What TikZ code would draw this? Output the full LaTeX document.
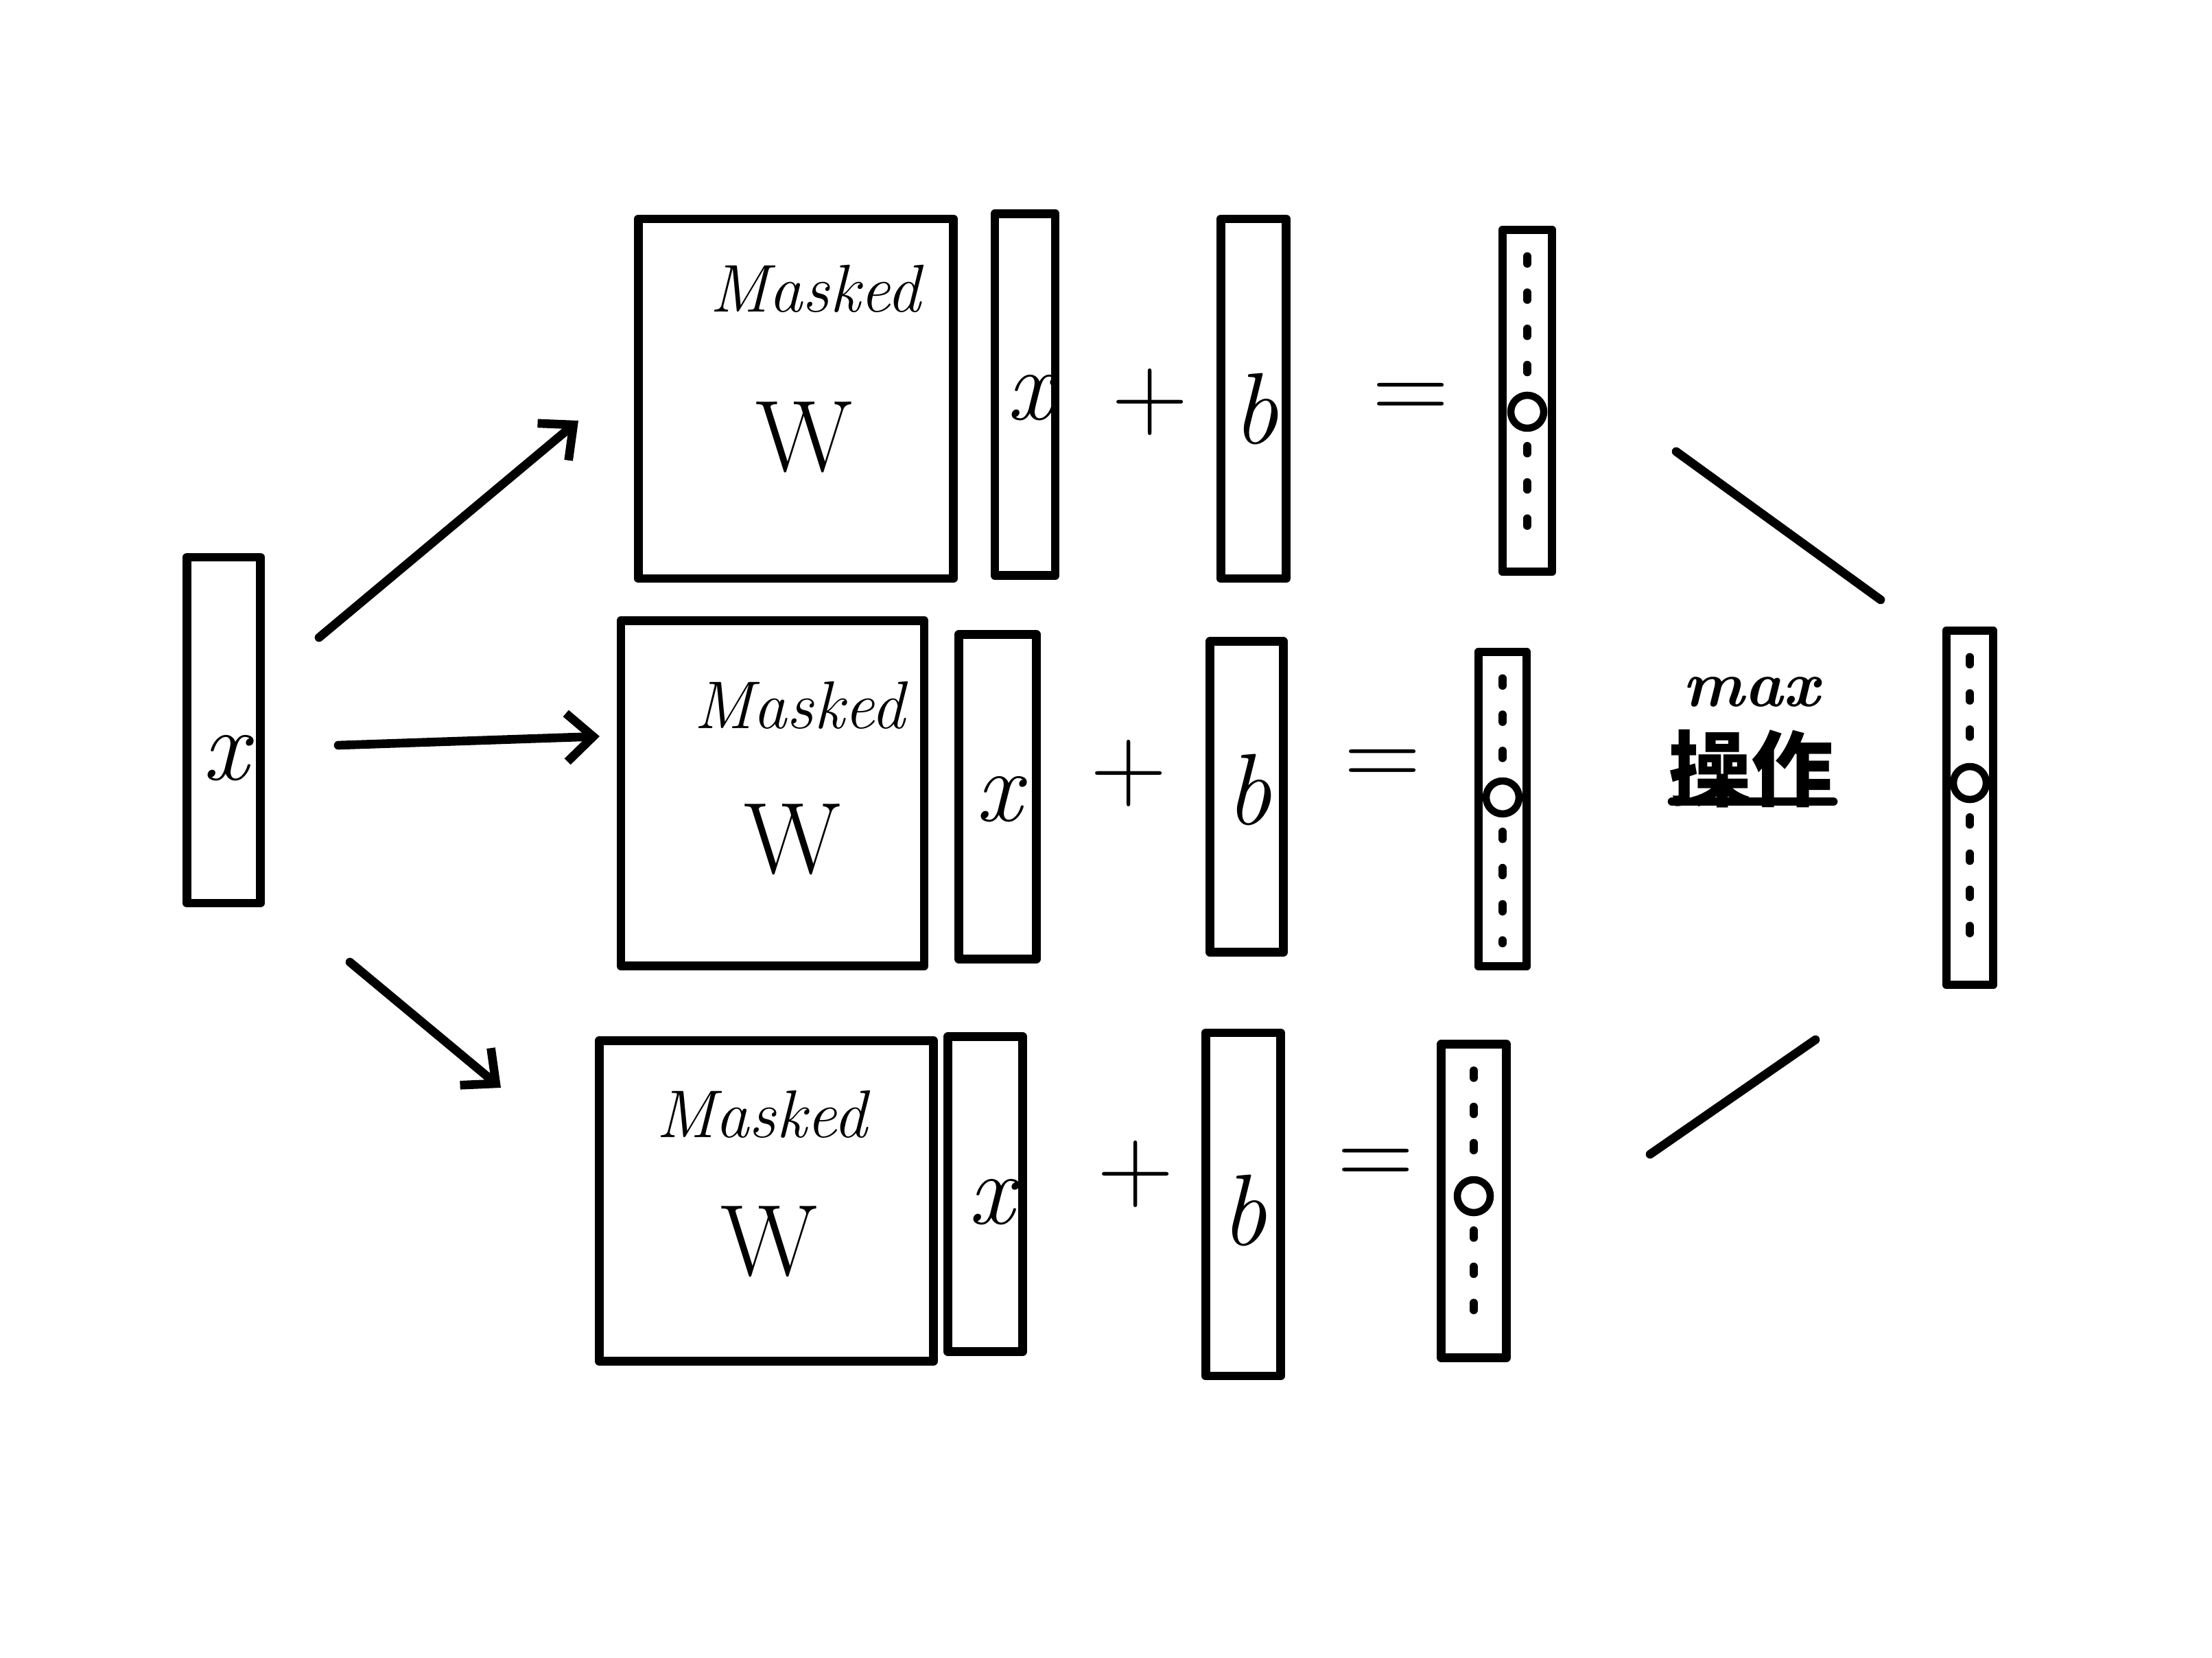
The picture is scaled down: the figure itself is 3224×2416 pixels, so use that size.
\documentclass[tikz,border=0pt]{standalone}
\usepackage{fontspec}
\newfontfamily\cjk{Noto Sans CJK SC}
\usetikzlibrary{arrows.meta,calc}
\newcommand\resvec[2]{%
  \draw[vdots] ($(#1.north)+(0,45)$) -- ($(#1.center)+(0,#2-45)$);
  \draw[line width=3pt] ($(#1.center)+(0,#2)$) circle[radius=24];
  \draw[vdots] ($(#1.center)+(0,#2+50)$) -- ($(#1.south)+(0,-40)$);
}
\begin{document}
\begin{tikzpicture}[x=0.01cm,y=-0.01cm,line cap=round,line join=round,
  ink/.style={line width=3.6pt},
  box/.style={draw,line width=3.6pt,inner sep=0pt},
  vdots/.style={line width=3.4pt,dash pattern=on 3pt off 12pt},
  arr/.style={ink,-{Straight Barb[length=11pt,width=20pt]}},
  masked/.style={font=\fontsize{28}{34}\selectfont\itshape},
  wlab/.style={font=\fontsize{42}{50}\selectfont},
  vlab/.style={font=\fontsize{42}{50}\selectfont\itshape},
  op/.style={font=\fontsize{44}{52}\selectfont}]
\useasboundingbox (0,0) rectangle (3224,2416);
\fill[white] (0,0) rectangle (3224,2416);

% input vector
\node[box,minimum width=1.07cm,minimum height=5.04cm] (x0) at (326,1064) {};
\node[vlab] (x0l) at (329,1105) {x};

% arrows
\coordinate (a1s) at (465,929);  \coordinate (a1e) at (843,613);
\coordinate (a2s) at (493,1086); \coordinate (a2e) at (874,1073);
\coordinate (a3s) at (510,1402); \coordinate (a3e) at (730,1585);
\draw[arr] (a1s) -- (a1e);
\draw[arr] (a2s) -- (a2e);
\draw[arr] (a3s) -- (a3e);

% row 1
\node[box,minimum width=4.59cm,minimum height=5.24cm] (W1) at (1160,581) {};
\node[masked] (mk1) at (1188,421) {Masked};
\node[wlab] (wl1) at (1172,637) {W};
\node[box,minimum width=0.88cm,minimum height=5.27cm] (x1) at (1494,575) {};
\node[vlab] (x1l) at (1501,580) {x};
\node[op] (p1) at (1676,586) {+};
\node[box,minimum width=0.95cm,minimum height=5.24cm] (b1) at (1827,581) {};
\node[vlab] (b1l) at (1830,596) {b};
\node[op] (e1) at (2056,586) {=};
\node[box,minimum width=0.72cm,minimum height=4.98cm] (r1) at (2226,584) {};
\resvec{r1}{16}

% row 2
\node[box,minimum width=4.42cm,minimum height=5.03cm] (W2) at (1126,1156) {};
\node[masked] (mk2) at (1165,1028) {Masked};
\node[wlab] (wl2) at (1155,1223) {W};
\node[box,minimum width=1.13cm,minimum height=4.73cm] (x2) at (1454,1161) {};
\node[vlab] (x2l) at (1456,1165) {x};
\node[op] (p2) at (1645,1127) {+};
\node[box,minimum width=1.07cm,minimum height=4.53cm] (b2) at (1817,1161) {};
\node[vlab] (b2l) at (1820,1151) {b};
\node[op] (e2) at (2015,1120) {=};
\node[box,minimum width=0.70cm,minimum height=4.58cm] (r2) at (2190,1179) {};
\resvec{r2}{-17}

% row 3
\node[box,minimum width=4.87cm,minimum height=4.67cm] (W3) at (1117,1750) {};
\node[masked] (mk3) at (1110,1624) {Masked};
\node[wlab] (wl3) at (1121,1809) {W};
\node[box,minimum width=1.09cm,minimum height=4.59cm] (x3) at (1436,1740) {};
\node[vlab] (x3l) at (1445,1752) {x};
\node[op] (p3) at (1655,1711) {+};
\node[box,minimum width=1.09cm,minimum height=5.00cm] (b3) at (1812,1755) {};
\node[vlab] (b3l) at (1813,1764) {b};
\node[op] (e3) at (2005,1702) {=};
\node[box,minimum width=0.95cm,minimum height=4.57cm] (r3) at (2148,1750) {};
\resvec{r3}{-7}

% max operation
\coordinate (m1s) at (2443,658);  \coordinate (m1e) at (2741,874);
\coordinate (m2s) at (2405,1682); \coordinate (m2e) at (2646,1515);
\draw[ink] (m1s) -- (m1e);
\draw[ink] (m2s) -- (m2e);
\node[font=\fontsize{27}{32}\selectfont\bfseries\itshape] (mx) at (2552,1008) {max};
\node[font=\fontsize{34}{40}\selectfont\cjk\bfseries] (cz) at (2552,1120) {操作};
\coordinate (u1) at (2437,1168); \coordinate (u2) at (2672,1168);
\draw[ink] (u1) -- (u2);

% final vector
\node[box,minimum width=0.68cm,minimum height=5.16cm] (f) at (2871,1177) {};
\resvec{f}{-36}
\end{tikzpicture}
\end{document}
